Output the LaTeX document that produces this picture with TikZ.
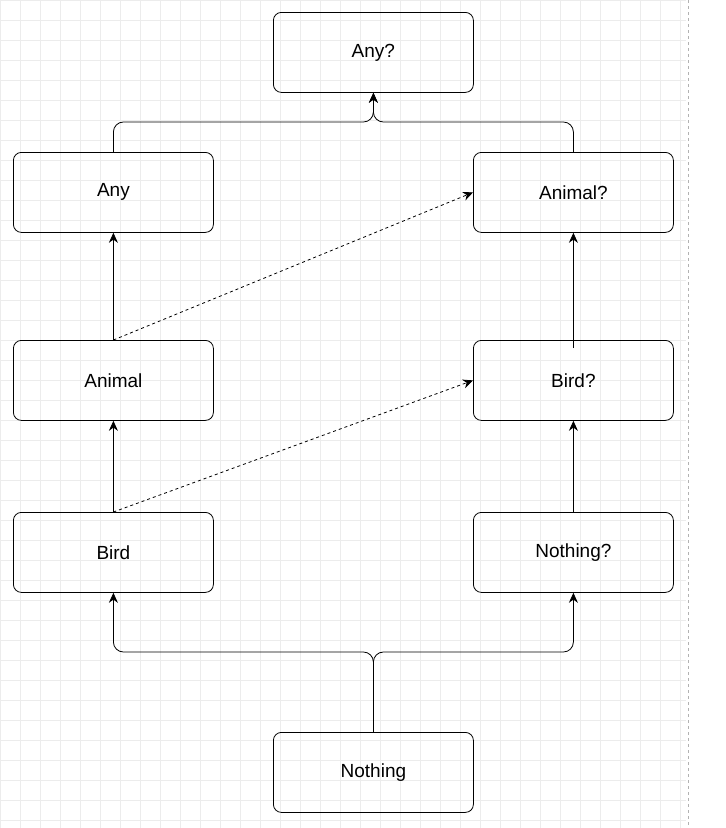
\documentclass[tikz,border=0pt]{standalone}
\usepackage{fontspec}
\setmainfont{Liberation Sans}
\usetikzlibrary{arrows.meta}
\begin{document}
\begin{tikzpicture}[x=1pt,y=-1pt,
  box/.style={draw,thick,rounded corners=8pt,minimum width=200pt,minimum height=80pt,font=\fontsize{19}{22}\selectfont,anchor=north west},
  arr/.style={thick,-{Stealth[length=10pt,width=9pt]},rounded corners=10pt},
  darr/.style={arr,dashed}]
\useasboundingbox (0,0) rectangle (726,828);
\fill[white] (0,0) rectangle (726,828);
\draw[gray!15,step=20pt] (0,0) grid (686,828);
\draw[gray!60,dashed] (688,0) -- (688,828);
\node[box] (anyq) at (273,12) {Any?};
\node[box] (any) at (13,152) {Any};
\node[box] (animalq) at (473,152) {Animal?};
\node[box] (animal) at (13,340) {Animal};
\node[box] (birdq) at (473,340) {Bird?};
\node[box] (bird) at (13,512) {Bird};
\node[box] (nothingq) at (473,512) {Nothing?};
\node[box] (nothing) at (273,732) {Nothing};
\draw[arr] (animal.north) -- (any.south);
\draw[arr] (bird.north) -- (animal.south);
\draw[arr] ([yshift=-8pt]birdq.north) -- (animalq.south);
\draw[arr] (nothingq.north) -- (birdq.south);
\draw[darr] (animal.north) -- (animalq.west);
\draw[darr] (bird.north) -- (birdq.west);
\draw[arr] (any.north) -- ++(0,-30) -| (anyq.south);
\draw[arr] (animalq.north) -- ++(0,-30) -| (anyq.south);
\draw[arr] (nothing.north) -- ++(0,-80) -| (bird.south);
\draw[arr] (nothing.north) -- ++(0,-80) -| (nothingq.south);
\end{tikzpicture}
\end{document}
